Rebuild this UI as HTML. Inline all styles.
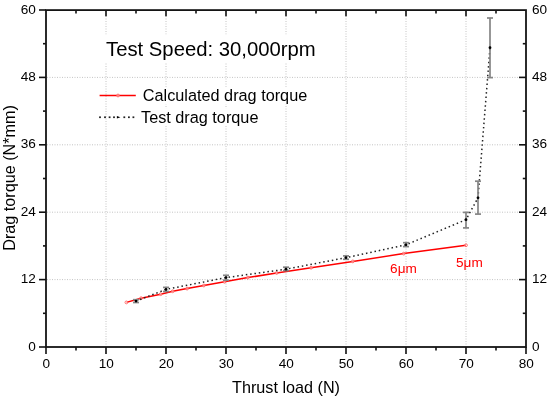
<!DOCTYPE html>
<html><head><meta charset="utf-8"><title>Drag torque vs thrust load</title>
<style>html,body{margin:0;padding:0;background:#fff;width:550px;height:400px;overflow:hidden}svg{display:block}</style>
</head><body>
<svg width="550" height="400" viewBox="0 0 550 400" font-family="&quot;Liberation Sans&quot;, Arial, sans-serif"><g stroke="#c4c4c4" stroke-width="1" stroke-dasharray="1 1.5" fill="none"><line x1="106" y1="11" x2="106" y2="346"/><line x1="166" y1="11" x2="166" y2="346"/><line x1="226" y1="11" x2="226" y2="346"/><line x1="286" y1="11" x2="286" y2="346"/><line x1="346" y1="11" x2="346" y2="346"/><line x1="406" y1="11" x2="406" y2="346"/><line x1="466" y1="11" x2="466" y2="346"/><line x1="47" y1="279.6" x2="525" y2="279.6"/><line x1="47" y1="212.2" x2="525" y2="212.2"/><line x1="47" y1="144.8" x2="525" y2="144.8"/><line x1="47" y1="77.4" x2="525" y2="77.4"/></g>
<g stroke="#111" stroke-width="1.6"><line x1="39" y1="347" x2="46" y2="347"/><line x1="43" y1="313.3" x2="46" y2="313.3"/><line x1="522.8" y1="313.3" x2="526" y2="313.3"/><line x1="39" y1="279.6" x2="46" y2="279.6"/><line x1="519" y1="279.6" x2="526" y2="279.6"/><line x1="43" y1="245.9" x2="46" y2="245.9"/><line x1="522.8" y1="245.9" x2="526" y2="245.9"/><line x1="39" y1="212.2" x2="46" y2="212.2"/><line x1="519" y1="212.2" x2="526" y2="212.2"/><line x1="43" y1="178.5" x2="46" y2="178.5"/><line x1="522.8" y1="178.5" x2="526" y2="178.5"/><line x1="39" y1="144.8" x2="46" y2="144.8"/><line x1="519" y1="144.8" x2="526" y2="144.8"/><line x1="43" y1="111.1" x2="46" y2="111.1"/><line x1="522.8" y1="111.1" x2="526" y2="111.1"/><line x1="39" y1="77.4" x2="46" y2="77.4"/><line x1="519" y1="77.4" x2="526" y2="77.4"/><line x1="43" y1="43.7" x2="46" y2="43.7"/><line x1="522.8" y1="43.7" x2="526" y2="43.7"/><line x1="39" y1="10" x2="46" y2="10"/><line x1="46" y1="347" x2="46" y2="354"/><line x1="76" y1="347" x2="76" y2="350.5"/><line x1="76" y1="10" x2="76" y2="13.4"/><line x1="106" y1="347" x2="106" y2="354"/><line x1="106" y1="10" x2="106" y2="16.2"/><line x1="136" y1="347" x2="136" y2="350.5"/><line x1="136" y1="10" x2="136" y2="13.4"/><line x1="166" y1="347" x2="166" y2="354"/><line x1="166" y1="10" x2="166" y2="16.2"/><line x1="196" y1="347" x2="196" y2="350.5"/><line x1="196" y1="10" x2="196" y2="13.4"/><line x1="226" y1="347" x2="226" y2="354"/><line x1="226" y1="10" x2="226" y2="16.2"/><line x1="256" y1="347" x2="256" y2="350.5"/><line x1="256" y1="10" x2="256" y2="13.4"/><line x1="286" y1="347" x2="286" y2="354"/><line x1="286" y1="10" x2="286" y2="16.2"/><line x1="316" y1="347" x2="316" y2="350.5"/><line x1="316" y1="10" x2="316" y2="13.4"/><line x1="346" y1="347" x2="346" y2="354"/><line x1="346" y1="10" x2="346" y2="16.2"/><line x1="376" y1="347" x2="376" y2="350.5"/><line x1="376" y1="10" x2="376" y2="13.4"/><line x1="406" y1="347" x2="406" y2="354"/><line x1="406" y1="10" x2="406" y2="16.2"/><line x1="436" y1="347" x2="436" y2="350.5"/><line x1="436" y1="10" x2="436" y2="13.4"/><line x1="466" y1="347" x2="466" y2="354"/><line x1="466" y1="10" x2="466" y2="16.2"/><line x1="496" y1="347" x2="496" y2="350.5"/><line x1="496" y1="10" x2="496" y2="13.4"/><line x1="526" y1="347" x2="526" y2="354"/></g>
<rect x="46" y="10.1" width="480" height="336.9" fill="none" stroke="#141414" stroke-width="1.8"/>
<g font-size="13.6" fill="#000"><text x="35.8" y="350.5" text-anchor="end">0</text><text x="532" y="350.5">0</text><text x="35.8" y="283.1" text-anchor="end">12</text><text x="532" y="283.1">12</text><text x="35.8" y="215.7" text-anchor="end">24</text><text x="532" y="215.7">24</text><text x="35.8" y="148.3" text-anchor="end">36</text><text x="532" y="148.3">36</text><text x="35.8" y="80.9" text-anchor="end">48</text><text x="532" y="80.9">48</text><text x="35.8" y="13.5" text-anchor="end">60</text><text x="532" y="13.5">60</text><text x="46.3" y="367.7" text-anchor="middle">0</text><text x="106.3" y="367.7" text-anchor="middle">10</text><text x="166.3" y="367.7" text-anchor="middle">20</text><text x="226.3" y="367.7" text-anchor="middle">30</text><text x="286.3" y="367.7" text-anchor="middle">40</text><text x="346.3" y="367.7" text-anchor="middle">50</text><text x="406.3" y="367.7" text-anchor="middle">60</text><text x="466.3" y="367.7" text-anchor="middle">70</text><text x="526.3" y="367.7" text-anchor="middle">80</text></g>
<text x="286" y="393.1" font-size="16.2" text-anchor="middle">Thrust load (N)</text>
<text transform="translate(15.2 177.9) rotate(-90)" font-size="16.2" text-anchor="middle">Drag torque (N*mm)</text>
<rect x="98" y="34.5" width="226" height="28.5" fill="#fff"/>
<text x="106" y="56" font-size="20.3">Test Speed: 30,000rpm</text>
<polyline fill="none" stroke="#f00" stroke-width="1.5" stroke-linejoin="round" points="126.4,302.4 141.1,298.2 160.7,294.2 172.7,291.3 187.1,288.6 203.8,285.5 224.5,281.8 247.9,277.6 276.6,273 311.1,267.7 352.8,261.4 403.7,253.6 466,245.25"/>
<g fill="#fff" fill-opacity="0.5" stroke="#f55" stroke-width="0.8"><circle cx="126.4" cy="302.4" r="1.4"/><circle cx="141.1" cy="298.2" r="1.4"/><circle cx="160.7" cy="294.2" r="1.4"/><circle cx="172.7" cy="291.3" r="1.4"/><circle cx="187.1" cy="288.6" r="1.4"/><circle cx="203.8" cy="285.5" r="1.4"/><circle cx="224.5" cy="281.8" r="1.4"/><circle cx="247.9" cy="277.6" r="1.4"/><circle cx="276.6" cy="273" r="1.4"/><circle cx="311.1" cy="267.7" r="1.4"/><circle cx="352.8" cy="261.4" r="1.4"/><circle cx="403.7" cy="253.6" r="1.4"/><circle cx="466" cy="245.25" r="1.4"/></g>
<polyline fill="none" stroke="#222" stroke-width="1.5" stroke-dasharray="1.5 2.86" points="136,301.1 166,289.4 226,277.6 286,269.2 346,257.7 406,244.8 466,219.7 478,197.8 490,47.7"/>
<g stroke="#858585" stroke-width="1.7"><line x1="136" y1="299.7" x2="136" y2="302.5"/><line x1="133" y1="299.7" x2="139" y2="299.7"/><line x1="133" y1="302.5" x2="139" y2="302.5"/><line x1="166" y1="287.4" x2="166" y2="291.5"/><line x1="163" y1="287.4" x2="169" y2="287.4"/><line x1="163" y1="291.5" x2="169" y2="291.5"/><line x1="226" y1="275.3" x2="226" y2="280.2"/><line x1="223" y1="275.3" x2="229" y2="275.3"/><line x1="223" y1="280.2" x2="229" y2="280.2"/><line x1="286" y1="267.2" x2="286" y2="270.6"/><line x1="283" y1="267.2" x2="289" y2="267.2"/><line x1="283" y1="270.6" x2="289" y2="270.6"/><line x1="346" y1="255.9" x2="346" y2="259.3"/><line x1="343" y1="255.9" x2="349" y2="255.9"/><line x1="343" y1="259.3" x2="349" y2="259.3"/><line x1="406" y1="242.7" x2="406" y2="246.6"/><line x1="403" y1="242.7" x2="409" y2="242.7"/><line x1="403" y1="246.6" x2="409" y2="246.6"/><line x1="466" y1="212.4" x2="466" y2="227.9"/><line x1="463" y1="212.4" x2="469" y2="212.4"/><line x1="463" y1="227.9" x2="469" y2="227.9"/><line x1="478" y1="181.2" x2="478" y2="214.1"/><line x1="475" y1="181.2" x2="481" y2="181.2"/><line x1="475" y1="214.1" x2="481" y2="214.1"/><line x1="490" y1="18" x2="490" y2="77.6"/><line x1="487" y1="18" x2="493" y2="18"/><line x1="487" y1="77.6" x2="493" y2="77.6"/></g>
<g fill="#000"><circle cx="136" cy="301.1" r="1.4"/><circle cx="166" cy="289.4" r="1.4"/><circle cx="226" cy="277.6" r="1.4"/><circle cx="286" cy="269.2" r="1.4"/><circle cx="346" cy="257.7" r="1.4"/><circle cx="406" cy="244.8" r="1.4"/><circle cx="466" cy="219.7" r="1.4"/><circle cx="478" cy="197.8" r="1.4"/><circle cx="490" cy="47.7" r="1.4"/></g>
<line x1="99.6" y1="95.5" x2="135.8" y2="95.5" stroke="#f00" stroke-width="1.5"/>
<circle cx="118" cy="95.5" r="1.4" fill="#fff" fill-opacity="0.5" stroke="#f55" stroke-width="0.8"/>
<rect x="142.8" y="86.8" width="164.4" height="17.6" fill="#fff"/><rect x="141" y="108.2" width="117.4" height="17.4" fill="#fff"/>
<text x="142.8" y="101.3" font-size="16.25">Calculated drag torque</text>
<g fill="#222"><rect x="99.1" y="116.4" width="1.8" height="1.7"/><rect x="104.1" y="116.4" width="1.8" height="1.7"/><rect x="108.7" y="116.4" width="1.8" height="1.7"/><rect x="113.1" y="116.4" width="1.8" height="1.7"/><rect x="123.4" y="116.4" width="1.8" height="1.7"/><rect x="128" y="116.4" width="1.8" height="1.7"/><rect x="132.5" y="116.4" width="1.8" height="1.7"/></g>
<path d="M116.9 116.1 L120.4 117.3 L116.9 118.5 Z" fill="#000"/>
<text x="141" y="122.8" font-size="16.25">Test drag torque</text>
<g fill="#f00" font-size="13.6"><text x="390.1" y="273.2">6μm</text><text x="456" y="266.9">5μm</text></g></svg>
</body></html>
